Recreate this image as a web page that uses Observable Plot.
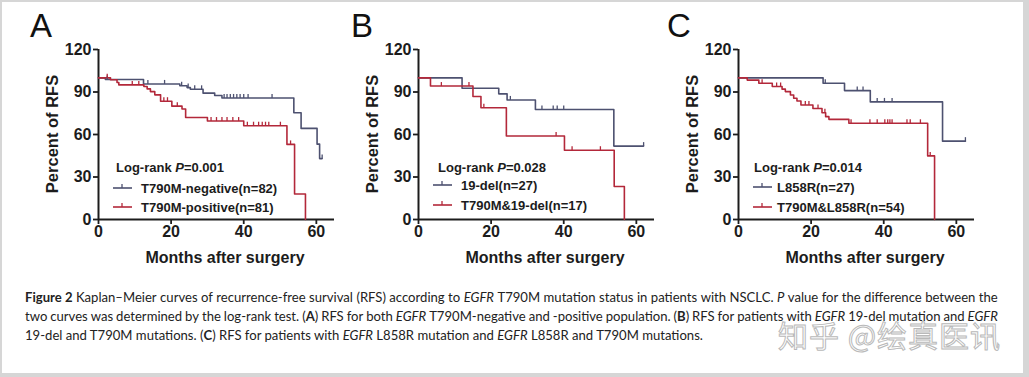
<!DOCTYPE html>
<html>
<head>
<meta charset="utf-8">
<script src="https://cdn.jsdelivr.net/npm/d3@7"></script>
<script src="https://cdn.jsdelivr.net/npm/@observablehq/plot@0.6"></script>
<style>
  html, body { margin: 0; padding: 0; background: #d6d6d6; }
  #root { position: relative; width: 1029px; height: 377px; background: #d6d6d6; overflow: hidden; }
  #inner { position: absolute; left: 2px; top: 2px; width: 1021px; height: 371px; background: #ffffff; }
  .panel { position: absolute; top: 0; }
  .panel svg { overflow: visible; }
  #caption { position: absolute; left: 25px; top: 288px; width: 973px; font-family: Lato, "Open Sans", sans-serif; font-size: 13.1px; line-height: 19px; color: #222; }
  #caption .jl { white-space: nowrap; display: flex; justify-content: space-between; }
  #caption .ll { white-space: nowrap; }
  #watermark { position: absolute; left: 778px; top: 317px; font-family: "Noto Sans CJK SC", sans-serif; font-size: 30px; line-height: 34px; color: rgba(255,255,255,0.35); -webkit-text-stroke: 1px #b9b9b9; letter-spacing: 1px; white-space: nowrap; }
</style>
</head>
<body>
<div id="root">
  <div id="inner"></div>
  <div class="panel" id="pA" style="left:0px"></div>
  <div class="panel" id="pB" style="left:320px"></div>
  <div class="panel" id="pC" style="left:640px"></div>
  <div id="caption"></div>
  <div id="watermark">知乎 @绘真医讯</div>
</div>
<script>
// ---------- data ----------
const xTicks = [0, 20, 40, 60];
const yTicks = [0, 30, 60, 90, 120];
const panelLetters = ["A", "B", "C"];
const pValues = ["0.001", "0.028", "0.014"];
const legendA = ["T790M-negative(n=82)", "T790M-positive(n=81)"];
const legendB = ["19-del(n=27)", "T790M&19-del(n=17)"];
const legendC = ["L858R(n=27)", "T790M&L858R(n=54)"];
const xTitle = "Months after surgery";
const yTitle = "Percent of RFS";

// Panel A
const aNegTime   = [0, 1.9, 12.4, 22.4, 24.4, 25.3, 28.8, 32.0, 34.0, 53.8, 55.8, 60.2, 60.9, 61.6];
const aNegSurv   = [100, 98.8, 95.7, 94.4, 93.1, 91.9, 89.2, 87.5, 85.8, 75.4, 64.3, 53.2, 43.0, 43.0];
const aNegCensor = [2.4, 13.6, 18.2, 22.9, 24.7, 26.5, 28.4, 34.6, 35.4, 36.3, 37.2, 38.1, 39.0, 40.0, 41.2, 47.8, 61.6];
const aPosTime   = [0, 3.3, 5.1, 5.6, 12.5, 13.4, 14.3, 15.5, 17.1, 20.2, 23.0, 24.0, 30.0, 40.0, 51.9, 54.0, 57.0];
const aPosSurv   = [100, 98.6, 96.7, 95.0, 93.9, 92.2, 90.3, 88.0, 83.5, 80.0, 78.0, 72.0, 69.5, 66.2, 53.0, 18.0, 0];
const aPosCensor = [2.4, 9.3, 11.1, 18.0, 19.0, 21.7, 31.0, 32.5, 34.0, 35.4, 37.0, 38.6, 41.0, 42.7, 44.1, 45.1, 46.0, 46.9, 50.1, 52.9];

// Panel B
const bDelTime   = [0, 12.0, 22.1, 24.4, 32.2, 53.8, 62.0];
const bDelSurv   = [100, 92.6, 88.7, 84.4, 77.7, 51.8, 51.8];
const bDelCensor = [25.3, 34.0, 37.1, 38.2, 40.0, 62.0];
const bMixTime   = [0, 3.3, 15.0, 17.2, 24.2, 40.2, 53.9, 56.7];
const bMixSurv   = [100, 94.2, 86.8, 78.9, 58.9, 48.9, 23.3, 0];
const bMixCensor = [6.3, 13.9, 18.0, 37.9, 42.3, 50.1];

// Panel C
const cL858Time   = [0, 23.3, 29.2, 36.3, 56.2, 62.5];
const cL858Surv   = [100, 96.2, 91.0, 83.0, 55.3, 55.3];
const cL858Censor = [23.9, 32.7, 34.3, 38.2, 40.2, 42.3, 62.5];
const cMixTime    = [0, 2.4, 5.6, 9.3, 12.0, 12.9, 14.3, 15.2, 16.1, 17.2, 20.5, 23.0, 24.0, 24.9, 30.4, 52.1, 54.0];
const cMixSurv    = [100, 98.4, 96.2, 93.9, 92.0, 90.3, 87.9, 85.6, 83.7, 80.8, 78.4, 75.4, 72.6, 70.7, 67.9, 44.9, 0];
const cMixCensor  = [6.5, 10.5, 11.6, 18.4, 19.4, 21.9, 23.8, 31.0, 36.2, 38.2, 40.3, 41.1, 41.7, 42.3, 46.4, 47.3, 50.1, 52.8];

// ---------- styles ----------
const colNeg = "#4d5170";
const colPos = "#b3283a";
const axisCol = "#1c1c1c";
const fontMain = "'Liberation Sans', Arial, sans-serif";

const censorSymbol = {
  draw(context, size) {
    const r = Math.sqrt(size / Math.PI);
    context.moveTo(0, 0);
    context.lineTo(0, -r);
  }
};

function series(times, surv) { return times.map((t, i) => ({t, s: surv[i]})); }
function survAt(times, surv, c) {
  let v = surv[0];
  for (let i = 0; i < times.length; i++) if (times[i] <= c) v = surv[i];
  return v;
}
function censors(times, surv, cs) { return cs.map(c => ({t: c, s: survAt(times, surv, c)})); }

function makePanel(el, cfg) {
  const s1 = series(cfg.t1, cfg.s1), s2 = series(cfg.t2, cfg.s2);
  const c1 = censors(cfg.t1, cfg.s1, cfg.c1), c2 = censors(cfg.t2, cfg.s2, cfg.c2);
  const plot = Plot.plot({
    width: 345, height: 275,
    marginLeft: 98, marginRight: 11, marginTop: 49, marginBottom: 56,
    style: {fontFamily: fontMain, background: "transparent", color: axisCol, overflow: "visible"},
    x: {domain: [0, 65]},
    y: {domain: [0, 120]},
    marks: [
      Plot.axisX({ticks: xTicks, tickSize: 5, tickPadding: 1, strokeWidth: 1.8, fontSize: 16, fontWeight: "bold", label: null}),
      Plot.axisY({ticks: yTicks, tickSize: 5, tickPadding: 2, strokeWidth: 1.8, fontSize: 16, fontWeight: "bold", label: null}),
      Plot.ruleX([0], {stroke: axisCol, strokeWidth: 2}),
      Plot.ruleY([0], {stroke: axisCol, strokeWidth: 2}),
      Plot.line(s1, {x: "t", y: "s", curve: "step-after", stroke: colNeg, strokeWidth: 1.6}),
      Plot.line(s2, {x: "t", y: "s", curve: "step-after", stroke: colPos, strokeWidth: 1.6}),
      Plot.dot(c1, {x: "t", y: "s", symbol: censorSymbol, r: 4, stroke: colNeg, fill: "none", strokeWidth: 1.3}),
      Plot.dot(c2, {x: "t", y: "s", symbol: censorSymbol, r: 4, stroke: colPos, fill: "none", strokeWidth: 1.3})
    ]
  });
  const svg = d3.select(plot);
  // panel letter
  svg.append("text").attr("x", cfg.letterX).attr("y", 37).attr("text-anchor", "start")
    .attr("font-family", fontMain).attr("font-size", 33).attr("fill", "#111").text(cfg.letter);
  // axis titles
  svg.append("text").attr("transform", "translate(52,134) rotate(-90)")
    .attr("text-anchor", "middle").attr("dy", "0.35em")
    .attr("font-family", fontMain).attr("font-size", 16.5).attr("font-weight", "bold").attr("fill", axisCol)
    .text(yTitle);
  svg.append("text").attr("x", 225).attr("y", 257).attr("dy", "0.35em")
    .attr("text-anchor", "middle")
    .attr("font-family", fontMain).attr("font-size", 16).attr("font-weight", "bold").attr("fill", axisCol)
    .text(xTitle);
  // legend
  const lg = svg.append("g").attr("font-family", fontMain).attr("font-size", 13).attr("font-weight", "bold")
    .attr("fill", axisCol).attr("text-anchor", "start");
  const t0 = lg.append("text").attr("x", cfg.lrX).attr("y", 167).attr("dy", "0.35em");
  t0.append("tspan").text("Log-rank ");
  t0.append("tspan").attr("font-style", "italic").text("P");
  t0.append("tspan").text("=" + cfg.p);
  [[cfg.legend[0], colNeg, cfg.row1], [cfg.legend[1], colPos, cfg.row2]].forEach(([label, col, y]) => {
    lg.append("line").attr("x1", 113).attr("x2", 132).attr("y1", y).attr("y2", y).attr("stroke", col).attr("stroke-width", 1.6);
    lg.append("line").attr("x1", 122).attr("x2", 122).attr("y1", y).attr("y2", y - 4).attr("stroke", col).attr("stroke-width", 1.3);
    lg.append("text").attr("x", cfg.txtX).attr("y", y).attr("dy", "0.35em").text(label);
  });
  el.appendChild(plot);
}

makePanel(document.getElementById("pA"), {
  letter: panelLetters[0], letterX: 30, p: pValues[0], legend: legendA, lrX: 116, txtX: 141, row1: 188, row2: 207,
  t1: aNegTime, s1: aNegSurv, c1: aNegCensor, t2: aPosTime, s2: aPosSurv, c2: aPosCensor
});
makePanel(document.getElementById("pB"), {
  letter: panelLetters[1], letterX: 31, p: pValues[1], legend: legendB, lrX: 118, txtX: 141, row1: 185, row2: 205,
  t1: bDelTime, s1: bDelSurv, c1: bDelCensor, t2: bMixTime, s2: bMixSurv, c2: bMixCensor
});
makePanel(document.getElementById("pC"), {
  letter: panelLetters[2], letterX: 27, p: pValues[2], legend: legendC, lrX: 114, txtX: 137, row1: 187, row2: 207,
  t1: cL858Time, s1: cL858Surv, c1: cL858Censor, t2: cMixTime, s2: cMixSurv, c2: cMixCensor
});

// ---------- caption ----------
const captionLine1 = '<b>Figure 2</b> Kaplan–Meier curves of recurrence-free survival (RFS) according to <i>EGFR</i> T790M mutation status in patients with NSCLC. <i>P</i> value for the difference between the';
const captionLine2 = 'two curves was determined by the log-rank test. (<b>A</b>) RFS for both <i>EGFR</i> T790M-negative and -positive population. (<b>B</b>) RFS for patients with <i>EGFR</i> 19-del mutation and <i>EGFR</i>';
const captionLine3 = '19-del and T790M mutations. (<b>C</b>) RFS for patients with <i>EGFR</i> L858R mutation and <i>EGFR</i> L858R and T790M mutations.';
function justifyLine(html) {
  const tmp = document.createElement("div");
  tmp.innerHTML = html;
  const out = document.createElement("div");
  out.className = "jl";
  const words = [];
  tmp.childNodes.forEach(n => {
    if (n.nodeType === 3) {
      n.textContent.split(/(\s+)/).forEach(part => {
        if (part.trim() === "") { if (part.length) words.push(null); }
        else words.push(document.createTextNode(part));
      });
    } else words.push(n.cloneNode(true));
  });
  let cur = document.createElement("span");
  words.forEach(w => {
    if (w === null) { if (cur.childNodes.length) { out.appendChild(cur); cur = document.createElement("span"); } }
    else cur.appendChild(w);
  });
  if (cur.childNodes.length) out.appendChild(cur);
  return out;
}
const cap = document.getElementById("caption");
cap.appendChild(justifyLine(captionLine1));
cap.appendChild(justifyLine(captionLine2));
const l3 = document.createElement("div"); l3.className = "ll"; l3.innerHTML = captionLine3; cap.appendChild(l3);
</script>
</body>
</html>
